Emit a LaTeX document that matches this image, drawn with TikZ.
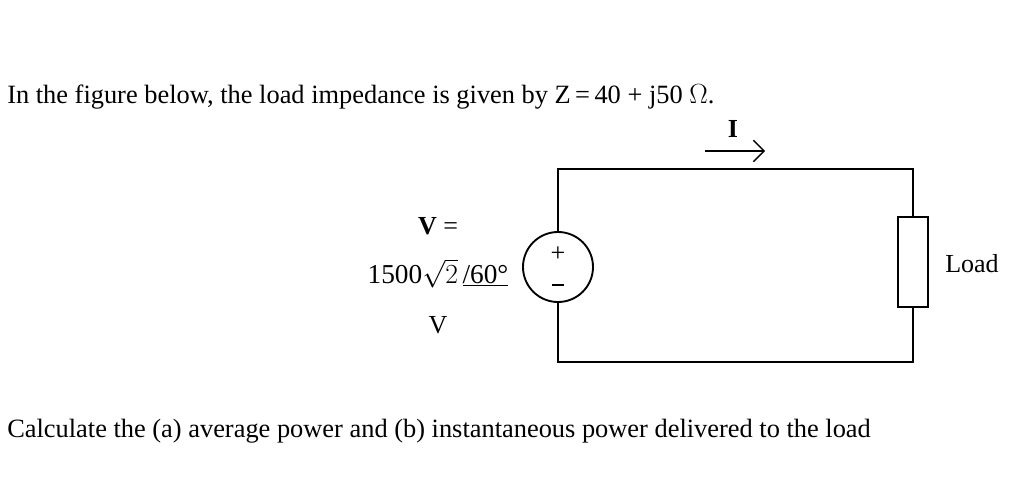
\documentclass[tikz,border=0pt]{standalone}
\usepackage{fontspec}
\setmainfont{Liberation Serif}
\usetikzlibrary{arrows.meta}
\begin{document}
\begin{tikzpicture}[x=0.75pt,y=-0.75pt,
  wire/.style={line width=1.1pt},
  txt/.style={font=\fontsize{19.8}{22}\selectfont,inner sep=0pt},
  lbl/.style={font=\fontsize{19.5}{22}\selectfont,inner sep=0pt}]
\useasboundingbox (0,0) rectangle (1024,482);
\node[txt,anchor=west] (t1) at (7,97) {In the figure below, the load impedance is given by Z\,=\,40 + j50 $\Omega$.};
\node[txt,anchor=west] (t2) at (7,431) {Calculate the (a) average power and (b) instantaneous power delivered to the load};
\node[draw,circle,line width=1.4pt,minimum size=70pt*0.75,inner sep=0pt] (src) at (558,267) {};
\node[lbl] at (558,254) {+};
\node[lbl] at (558,287) {\rule[3pt]{9pt}{0.9pt}};
\node[draw,rectangle,line width=1.4pt,minimum width=22.5pt,minimum height=67.5pt,inner sep=0pt] (load) at (913,262) {};
\coordinate (tl) at (558,169);
\coordinate (tr) at (913,169);
\coordinate (bl) at (558,362);
\coordinate (br) at (913,362);
\draw[wire] (src.north) -- (tl) -- (tr) -- (load.north);
\draw[wire] (src.south) -- (bl) -- (br) -- (load.south);
\coordinate (a1) at (705,151);
\coordinate (a2) at (765,151);
\draw[line width=1pt,-{Straight Barb[length=8pt]}] (a1) -- (a2);
\node[lbl] (I) at (733,129) {\textbf{I}};
\node[lbl] (Ld) at (972,264) {Load};
\node[lbl] (v1) at (438,226) {\textbf{V} =};
\node[lbl,font=\fontsize{20.5}{22}\selectfont] (v2) at (438,276) {1500\smash{$\sqrt{2}$}\,\underline{\smash{/}60°}};
\node[lbl] (v3) at (438,325) {V};
\end{tikzpicture}
\end{document}
